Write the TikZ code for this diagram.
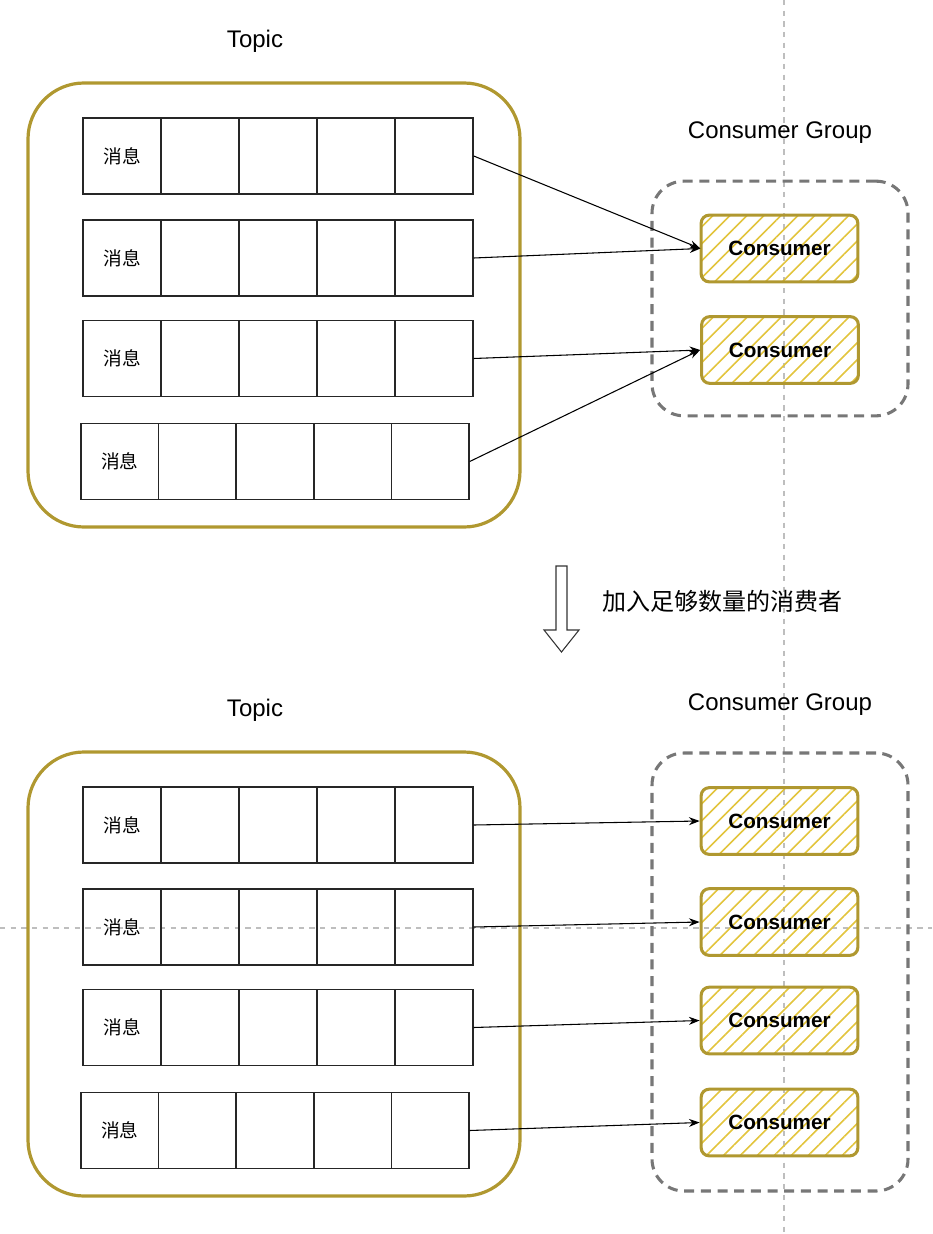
\documentclass[tikz,border=0pt]{standalone}
\usepackage{fontspec}
\setmainfont{Liberation Sans}
\newfontfamily\cjk{Noto Sans CJK SC}
\usetikzlibrary{arrows.meta,patterns.meta}
\definecolor{olive}{RGB}{176,152,48}
\definecolor{hatch}{RGB}{226,196,60}
\definecolor{grpgray}{RGB}{119,119,119}
\definecolor{guide}{RGB}{190,190,190}
\tikzset{
  cell/.style={draw=black!85, line width=1.1pt, minimum width=58pt, minimum height=57pt, inner sep=0pt},
  topicbox/.style={draw=olive, line width=2.4pt, rounded corners=42pt},
  groupbox/.style={draw=grpgray, line width=2.3pt, dash pattern=on 7.5pt off 5pt, rounded corners=24pt},
  consumer/.style={draw=olive, line width=2.3pt, rounded corners=6pt, minimum width=117.5pt, minimum height=50pt, inner sep=0pt,
     pattern={Lines[angle=45,distance=9pt,line width=1.2pt]}, pattern color=hatch, font=\fontsize{15.5pt}{18pt}\selectfont\bfseries},
  lbl/.style={font=\fontsize{18pt}{20pt}\selectfont},
  msg/.style={font=\cjk\fontsize{14pt}{16pt}\selectfont},
  conn/.style={line width=0.8pt, -{Stealth[length=8pt,width=6pt]}},
  guideline/.style={draw=guide, line width=0.9pt, dash pattern=on 4pt off 4pt},
}
\begin{document}
\begin{tikzpicture}[x=0.75pt,y=-0.75pt]
\useasboundingbox (0,0) rectangle (932,1234);
% guide lines
\draw[guideline] (784,0) -- (784,1234);
\draw[guideline] (0,928) -- (932,928);

% ===== TOP =====
\node[lbl] (topicA) at (255,41) {Topic};
\node[topicbox, minimum width=369pt, minimum height=333pt, inner sep=0pt] (tboxA) at (274,305) {};
\node[lbl] (grpA) at (780,133) {Consumer Group};
\node[groupbox, minimum width=192pt, minimum height=176pt, inner sep=0pt] (gboxA) at (780,298.5) {};

\foreach \r/\y/\xo/\p in {1/156/83/78, 2/258/83/78, 3/358.5/83/78, 4/461.5/81/77.6}{
  \foreach \c in {1,...,5}{
    \node[cell, minimum width=\p*0.75pt] (t\r c\c) at ({\xo+\p*(\c-0.5)},\y) {};
  }
  \node[msg] at (t\r c1) {消息};
}
\node[consumer] (ctA1) at (779.5,248.5) {Consumer};
\node[consumer] (ctA2) at (780,350) {Consumer};
\draw[conn] (t1c5.east) -- (ctA1.west);
\draw[conn] (t2c5.east) -- (ctA1.west);
\draw[conn] (t3c5.east) -- (ctA2.west);
\draw[conn] (t4c5.east) -- (ctA2.west);

% ===== middle block arrow =====
\draw[draw=black!80, line width=0.8pt] (556,566) -- (567,566) -- (567,630) -- (579,630) -- (561.5,652) -- (544,630) -- (556,630) -- cycle;
\node[anchor=west, font=\cjk\fontsize{18pt}{20pt}\selectfont, inner sep=0pt] (note) at (602,601) {加入足够数量的消费者};

% ===== BOTTOM =====
\node[lbl] (topicB) at (255,710) {Topic};
\node[topicbox, minimum width=369pt, minimum height=333pt, inner sep=0pt] (tboxB) at (274,974) {};
\node[lbl] (grpB) at (780,705) {Consumer Group};
\node[groupbox, minimum width=192pt, minimum height=328.5pt, inner sep=0pt] (gboxB) at (780,972) {};

\foreach \r/\y/\xo/\p in {1/825/83/78, 2/927/83/78, 3/1027.5/83/78, 4/1130.5/81/77.6}{
  \foreach \c in {1,...,5}{
    \node[cell, minimum width=\p*0.75pt] (b\r c\c) at ({\xo+\p*(\c-0.5)},\y) {};
  }
  \node[msg] at (b\r c1) {消息};
}
\node[consumer] (cbB1) at (779.5,821) {Consumer};
\node[consumer] (cbB2) at (779.5,922) {Consumer};
\node[consumer] (cbB3) at (779.5,1020.5) {Consumer};
\node[consumer] (cbB4) at (779.5,1122.5) {Consumer};
\draw[conn] (b1c5.east) -- (cbB1.west);
\draw[conn] (b2c5.east) -- (cbB2.west);
\draw[conn] (b3c5.east) -- (cbB3.west);
\draw[conn] (b4c5.east) -- (cbB4.west);
\end{tikzpicture}
\end{document}
